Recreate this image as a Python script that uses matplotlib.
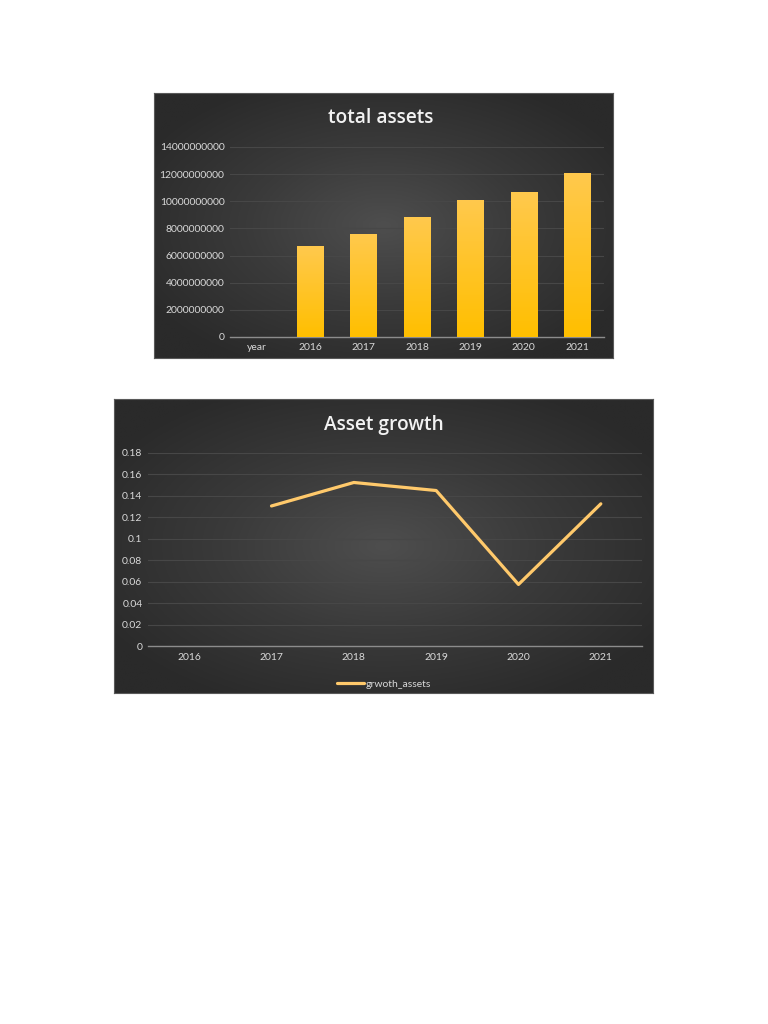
import numpy as np
import matplotlib
matplotlib.use('Agg')
import matplotlib.pyplot as plt
from matplotlib.ticker import FuncFormatter
from matplotlib.colors import LinearSegmentedColormap

plt.rcParams['font.family'] = ['Lato', 'DejaVu Sans']

# data
bar_cats = ['year', '2016', '2017', '2018', '2019', '2020', '2021']
total_assets = [np.nan, 6.70e9, 7.62e9, 8.83e9, 10.13e9, 10.67e9, 12.09e9]

line_cats = ['2016', '2017', '2018', '2019', '2020', '2021']
growth_assets = [np.nan, 0.1306, 0.1525, 0.145, 0.0574, 0.1326]

label_col = '#d9d9d9'
grid_col = '#474747'
axis_col = '#8c8c8c'

bg_cmap = LinearSegmentedColormap.from_list('bg', ['#4e4e4e', '#3a3a3a', '#2a2a2a'])
bar_cmap = LinearSegmentedColormap.from_list('b', ['#ffbf00', '#ffc94d'])


def dark_panel(fig, rect):
    # radial gradient background like the Excel dark chart style
    bg = fig.add_axes(rect)
    yy, xx = np.mgrid[-1:1:200j, -1:1:300j]
    r = np.sqrt(xx ** 2 + yy ** 2)
    bg.imshow(np.clip(r / 1.2, 0, 1), cmap=bg_cmap, vmin=0, vmax=1, aspect='auto',
              extent=[0, 1, 0, 1], interpolation='bilinear')
    bg.set_xticks([])
    bg.set_yticks([])
    for s in bg.spines.values():
        s.set_color('#595959')
        s.set_linewidth(0.8)
    return bg


def style_axes(ax):
    ax.set_facecolor('none')
    for k in ['top', 'right', 'left']:
        ax.spines[k].set_visible(False)
    ax.spines['bottom'].set_color(axis_col)
    ax.spines['bottom'].set_linewidth(1.0)
    ax.grid(axis='y', color=grid_col, linewidth=0.8)
    ax.set_axisbelow(True)
    ax.tick_params(length=0, colors=label_col, labelsize=7.5, pad=4)


fig = plt.figure(figsize=(7.68, 10.24), dpi=100)
fig.patch.set_facecolor('white')

# ---- total assets bar chart
bg1 = dark_panel(fig, [154 / 768, 1 - 358 / 1024, 459 / 768, 265 / 1024])
ax1 = fig.add_axes([230 / 768, 1 - 337 / 1024, 374 / 768, 190 / 1024])
style_axes(ax1)
x1 = np.arange(len(bar_cats))
bars = ax1.bar(x1, total_assets, width=0.5, color='#ffc000', zorder=2)
grad = np.linspace(0, 1, 100).reshape(-1, 1)
for b in bars:
    h = b.get_height()
    if np.isnan(h):
        continue
    im = ax1.imshow(grad, cmap=bar_cmap, origin='lower', aspect='auto',
                    extent=[b.get_x(), b.get_x() + b.get_width(), 0, h], zorder=3)
    im.set_clip_path(b)
ax1.set_xlim(-0.5, len(bar_cats) - 0.5)
ax1.set_ylim(0, 14e9)
ax1.set_yticks(np.arange(0, 14e9 + 1, 2e9))
ax1.yaxis.set_major_formatter(FuncFormatter(lambda v, p: '%d' % v))
ax1.set_xticks(x1)
ax1.set_xticklabels(bar_cats)
fig.text(381 / 768, 1 - 118 / 1024, 'total assets', ha='center', va='center',
         color='#f2f2f2', fontsize=13.8, fontweight='semibold',
         family=['Open Sans', 'DejaVu Sans'])

# ---- asset growth line chart
bg2 = dark_panel(fig, [114 / 768, 1 - 693 / 1024, 539 / 768, 294 / 1024])
ax2 = fig.add_axes([148 / 768, 1 - 646 / 1024, 494 / 768, 193 / 1024])
style_axes(ax2)
x2 = np.arange(len(line_cats))
ax2.plot(x2, growth_assets, color='#ffc96b', linewidth=2.3,
         solid_joinstyle='round', solid_capstyle='round',
         label='grwoth_assets', zorder=3)
ax2.set_xlim(-0.5, len(line_cats) - 0.5)
ax2.set_ylim(0, 0.18)
ax2.set_yticks(np.arange(0, 0.181, 0.02))
ax2.yaxis.set_major_formatter(FuncFormatter(lambda v, p: '%g' % round(v, 2)))
ax2.set_xticks(x2)
ax2.set_xticklabels(line_cats)
ax2.tick_params(axis='x', pad=5)
fig.text(384 / 768, 1 - 425 / 1024, 'Asset growth', ha='center', va='center',
         color='#f2f2f2', fontsize=13.8, fontweight='semibold',
         family=['Open Sans', 'DejaVu Sans'])
fig.legend(loc='center', bbox_to_anchor=(384 / 768, 1 - 684 / 1024),
           frameon=False, fontsize=7.5, handlelength=2.6,
           handletextpad=0.1, labelcolor=label_col)

fig.savefig('out.png', dpi=100, facecolor='white')
